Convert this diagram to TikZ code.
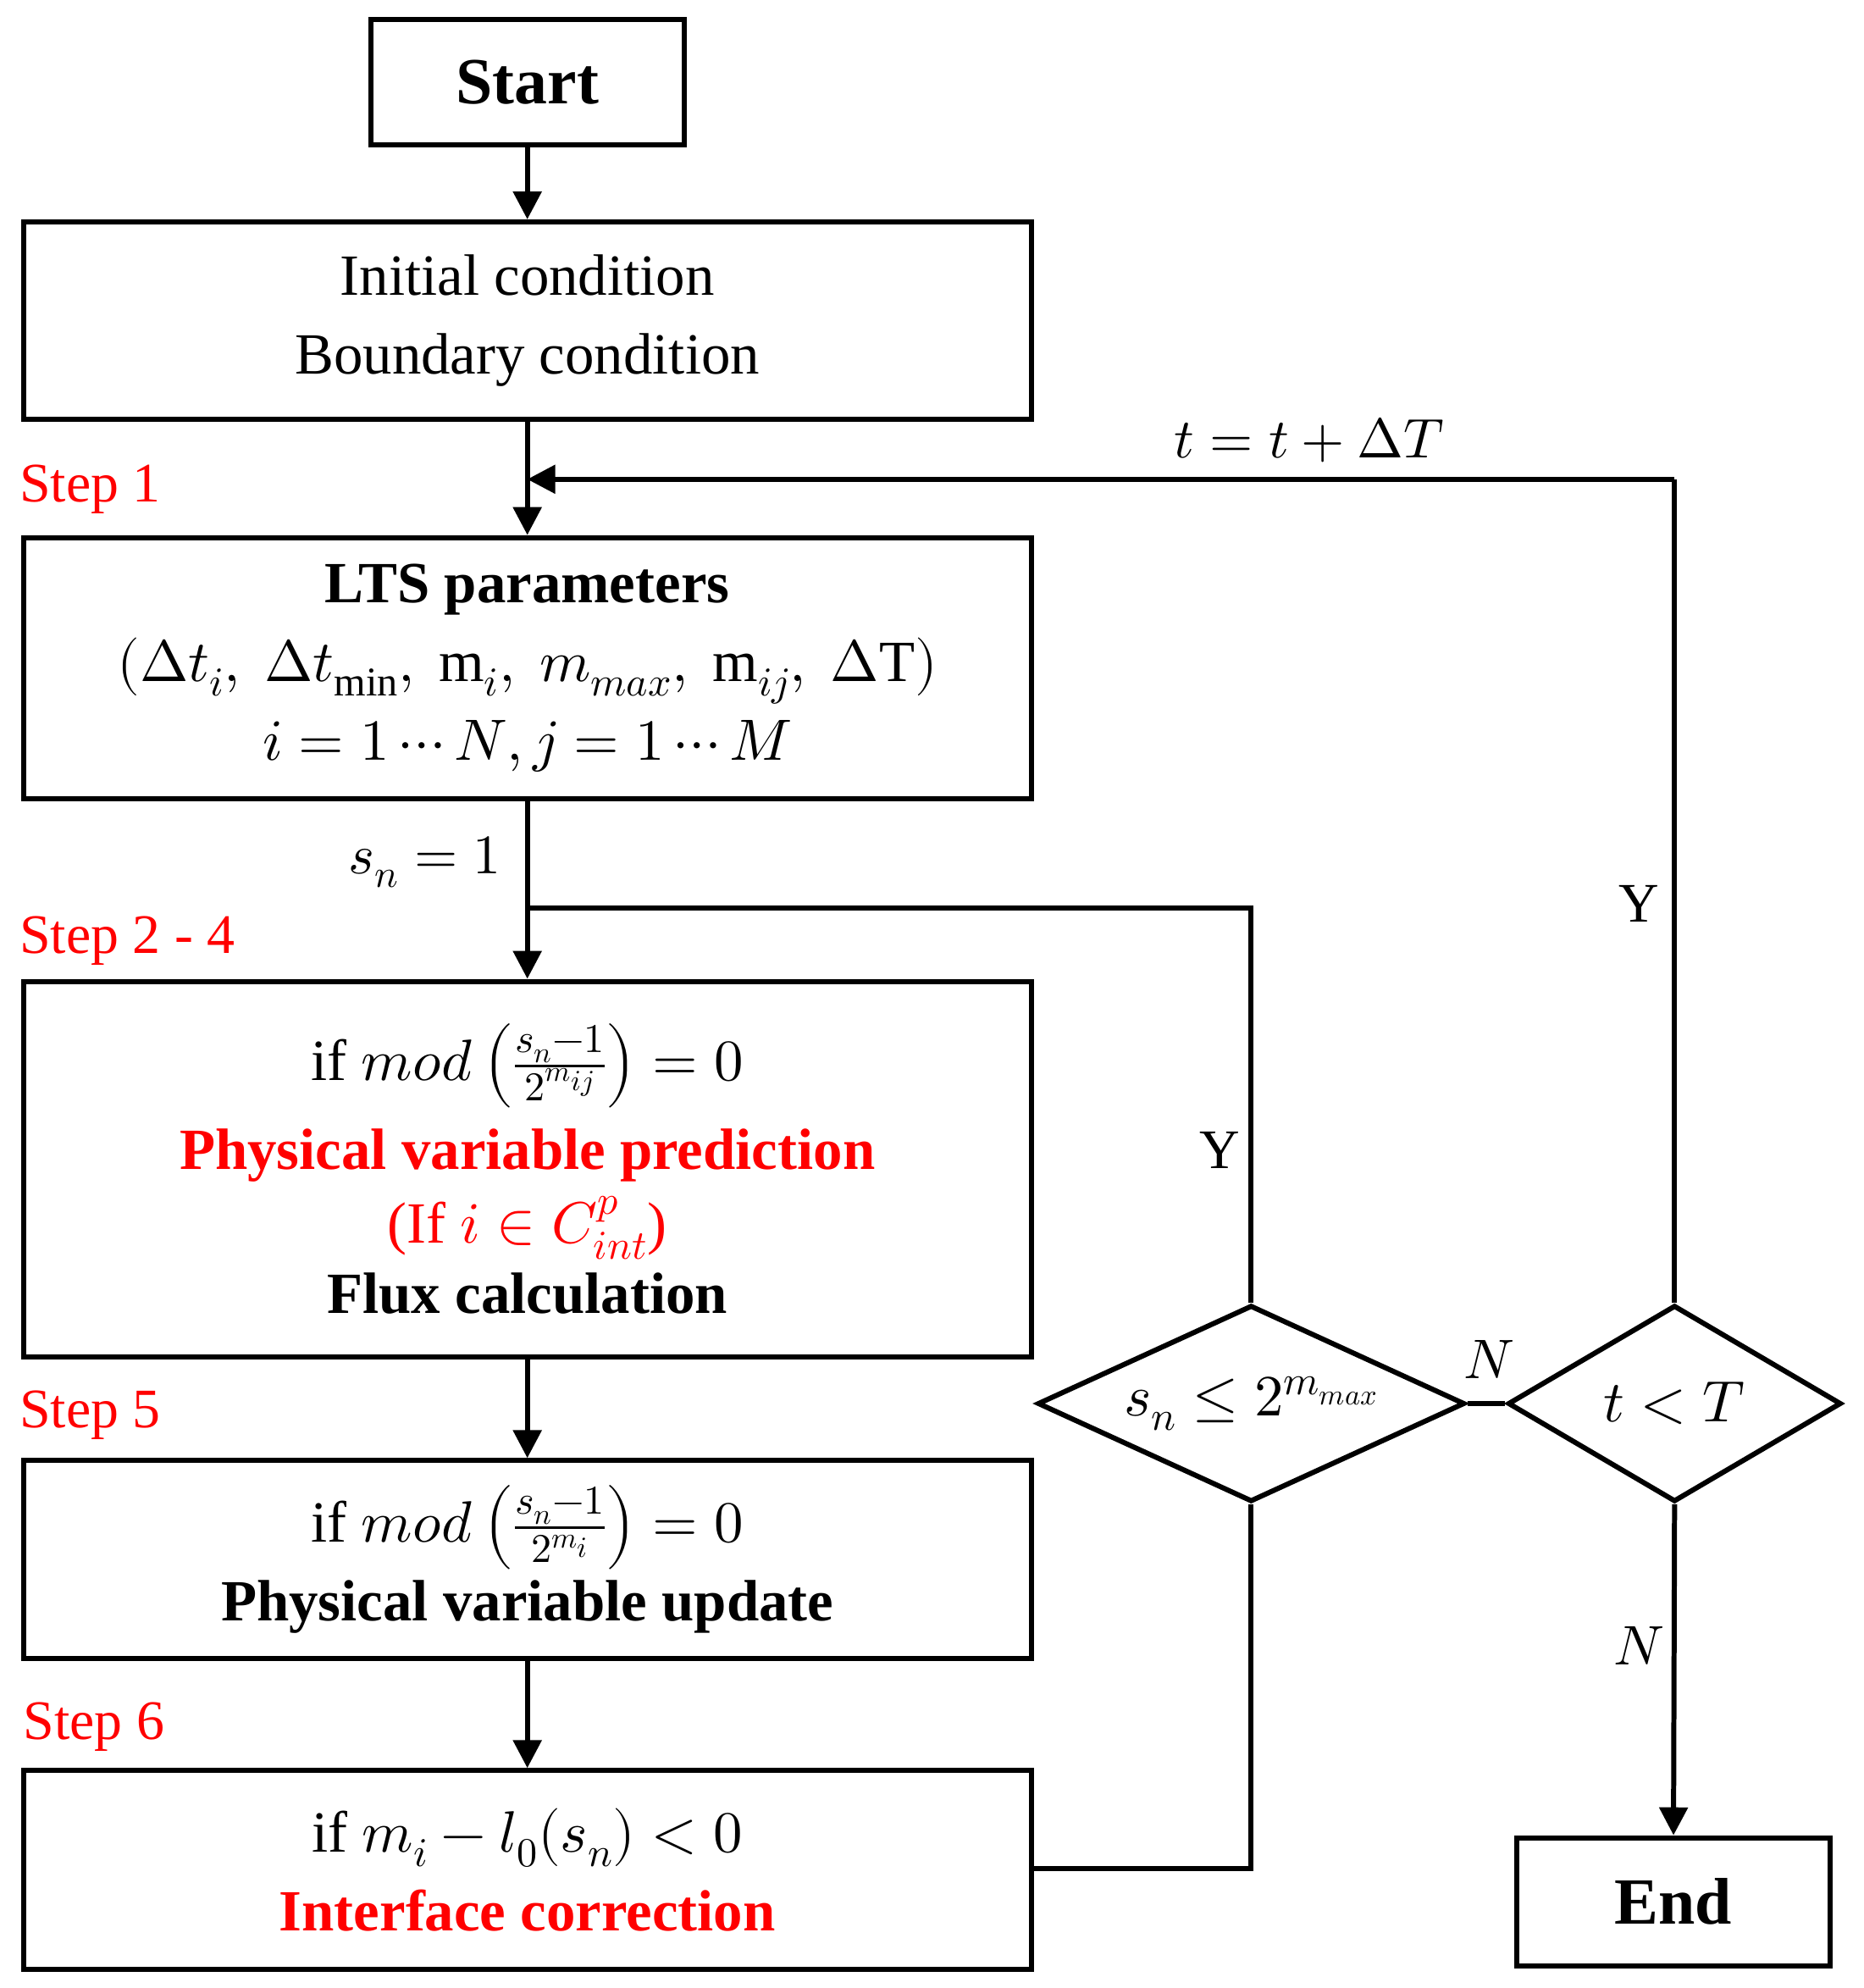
\documentclass[tikz,border=0pt]{standalone}
\usepackage{amsmath}
\usepackage{fontspec}
\usepackage{unicode-math}
\setmainfont{Liberation Serif}
\setmathfont{Latin Modern Math}
\usetikzlibrary{shapes.geometric,arrows.meta}
\begin{document}
\begin{tikzpicture}[x=1pt,y=-1pt,
  box/.style={draw,line width=4pt,inner sep=0pt},
  ln/.style={line width=4pt},
  ar/.style={ln,-{Triangle[length=22pt,width=22pt]}},
  txt/.style={font=\fontsize{46}{62}\selectfont,align=center},
  lab/.style={font=\fontsize{44}{50}\selectfont}]
\useasboundingbox (0,0) rectangle (1470,1568);
\node[box,minimum width=247pt,minimum height=99pt,font=\fontsize{52}{60}\selectfont] (start) at (416,65) {\textbf{Start}};
\node[box,minimum width=795pt,minimum height=156pt,txt] (init) at (416,253) {Initial condition\\Boundary condition};
\node[box,minimum width=795pt,minimum height=206pt,txt] (lts) at (416,527) {\textbf{LTS parameters}\\$(\Delta t_i,\ \Delta t_{\min},\ \mathrm{m}_i,\ m_{max},\ \mathrm{m}_{ij},\ \Delta\mathrm{T})$\\$i=1\cdots N, j=1\cdots M$};
\node[box,minimum width=795pt,minimum height=296pt,txt] (flux) at (416,922) {if $mod\left(\frac{s_n-1}{2^{m_{ij}}}\right)=0$\\[8pt]\textcolor{red}{\textbf{Physical variable prediction}}\\[-4pt]\textcolor{red}{(If $i\in C^{p}_{int}$)}\\[-6pt]\textbf{Flux calculation}};
\node[box,minimum width=795pt,minimum height=156pt,txt] (upd) at (416,1230) {if $mod\left(\frac{s_n-1}{2^{m_{i}}}\right)=0$\\[0pt]\textbf{Physical variable update}};
\node[box,minimum width=795pt,minimum height=157pt,txt] (intf) at (416,1475) {if $m_i-l_0(s_n)<0$\\\textcolor{red}{\textbf{Interface correction}}};
\node[draw,line width=4pt,diamond,aspect=2.17,minimum width=337pt,minimum height=155pt,inner sep=0pt,txt] (d1) at (987,1107) {$s_n\le 2^{m_{max}}$};
\node[draw,line width=4pt,diamond,aspect=1.7,minimum width=263pt,minimum height=155pt,inner sep=0pt,txt] (d2) at (1321,1107) {$t<T$};
\node[box,minimum width=247pt,minimum height=101pt,font=\fontsize{52}{60}\selectfont] (end) at (1320,1500) {\textbf{End}};
\coordinate (j1) at (416,378);
\coordinate (j2) at (416,716);
\coordinate (c1) at (1321,378);
\coordinate (c2) at (987,716);
\coordinate (c3) at (987,1474);
\draw[ar] (start) -- (init);
\draw[ar] (init) -- (lts);
\draw[ar] (lts) -- (flux);
\draw[ar] (flux) -- (upd);
\draw[ar] (upd) -- (intf);
\draw[ln] (intf.east|-c3) -- (c3) -- (d1.south);
\draw[ln] (d1.north) -- (c2) -- (j2);
\draw[ln] (d1.east) -- (d2.west);
\draw[ln] (d2.north) -- (c1);
\draw[ar] (c1) -- (j1);
\draw[ar] (d2.south) -- (end);
\node[lab,anchor=west] at (923,347) {$t=t+\Delta T$};
\node[lab] at (335,680) {$s_n=1$};
\node[lab] at (962,907) {Y};
\node[lab] at (1293,713) {Y};
\node[lab] at (1175,1072) {$N$};
\node[lab] at (1293,1298) {$N$};
\node[lab,text=red,anchor=west] at (12,386) {Step 1};
\node[lab,text=red,anchor=west] at (12,742) {Step 2 - 4};
\node[lab,text=red,anchor=west] at (12,1116) {Step 5};
\node[lab,text=red,anchor=west] at (15,1362) {Step 6};
\end{tikzpicture}
\end{document}
